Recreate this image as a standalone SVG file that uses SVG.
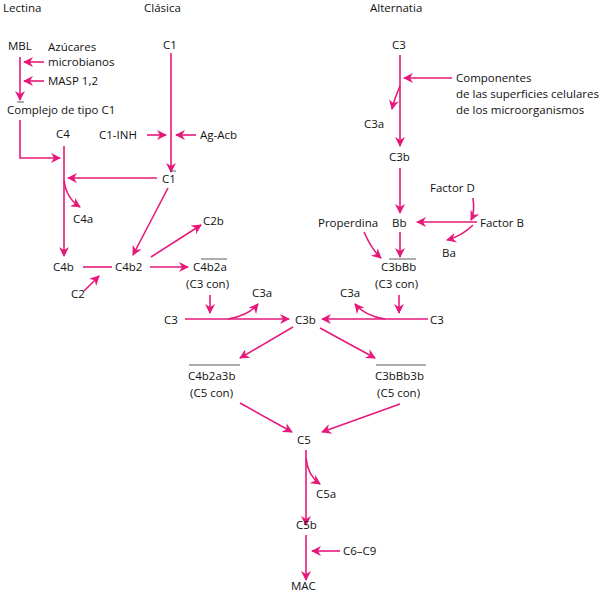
<svg xmlns="http://www.w3.org/2000/svg" width="600" height="593" viewBox="0 0 600 593">
<defs><marker id="a" viewBox="0 0 10 10" refX="9" refY="5" markerWidth="10" markerHeight="10" markerUnits="userSpaceOnUse" orient="auto"><path d="M0,0 L10,5 L0,10 L3,5 z" fill="#e6197a"/></marker></defs>
<style>text{font-family:"Open Sans","Liberation Sans",sans-serif;font-size:11.5px;fill:#111}.c path,.c line,.c polyline{stroke:#e6197a;stroke-width:1.6;fill:none}.m{marker-end:url(#a)}.o{stroke:#333;stroke-width:0.8}</style>
<rect width="600" height="593" fill="#fff"/>
<g id="headers"><text x="3" y="12">Lectina</text><text x="144" y="12">Clásica</text><text x="370" y="12">Alternatia</text></g>
<g class="c" id="connectors">
<line class="m" x1="20" y1="57" x2="20" y2="100"/>
<line class="m" x1="44" y1="62" x2="24" y2="62"/>
<line class="m" x1="44" y1="81" x2="24" y2="81"/>
<polyline class="m" points="20,120 20,158 60,158"/>
<line class="m" x1="64" y1="146" x2="64" y2="256"/>
<path class="m" d="M64,180 Q66,198 80,207"/>
<line class="m" x1="171" y1="53" x2="171" y2="172"/>
<line class="m" x1="147" y1="135" x2="166" y2="135"/>
<line class="m" x1="196" y1="135" x2="176" y2="135"/>
<line class="m" x1="157" y1="178" x2="68" y2="178"/>
<line class="m" x1="168" y1="188" x2="133" y2="255"/>
<line x1="83" y1="267" x2="112" y2="267"/>
<line class="m" x1="84" y1="291" x2="99" y2="276"/>
<line class="m" x1="151" y1="257" x2="201" y2="225"/>
<line class="m" x1="150" y1="267" x2="188" y2="267"/>
<line class="m" x1="210" y1="295" x2="210" y2="313"/>
<line class="m" x1="185" y1="319" x2="289" y2="319"/>
<path class="m" d="M228,319 Q248,316 258,304"/>
<line class="m" x1="428" y1="319" x2="322" y2="319"/>
<path class="m" d="M385,319 Q365,316 355,304"/>
<line class="m" x1="399" y1="295" x2="399" y2="313"/>
<line class="m" x1="293" y1="327" x2="240" y2="358"/>
<line class="m" x1="320" y1="328" x2="375" y2="358"/>
<line class="m" x1="240" y1="403" x2="292" y2="432"/>
<line class="m" x1="400" y1="404" x2="322" y2="432"/>
<line class="m" x1="306" y1="450" x2="306" y2="525"/>
<path class="m" d="M306,458 Q308,476 320,484"/>
<line class="m" x1="306" y1="535" x2="306" y2="580"/>
<line class="m" x1="340" y1="551" x2="312" y2="551"/>
<line class="m" x1="400" y1="55" x2="400" y2="146"/>
<path class="m" d="M400,86 Q394,100 392,109"/>
<line class="m" x1="452" y1="78" x2="404" y2="78"/>
<line class="m" x1="400" y1="168" x2="400" y2="213"/>
<path class="m" d="M473,198 Q475,212 471,220"/>
<line class="m" x1="477" y1="222" x2="417" y2="222"/>
<path class="m" d="M473,225 Q462,236 447,240"/>
<path class="m" d="M364,232 Q372,250 381,258"/>
<line class="m" x1="400" y1="232" x2="400" y2="257"/>
</g>
<g id="n-mbl"><text x="8" y="50">MBL</text></g>
<g id="n-azucares"><text x="48" y="51">Azúcares</text><text x="48" y="66">microbianos</text></g>
<g id="n-masp"><text x="48" y="85">MASP 1,2</text></g>
<g id="n-complejo"><text x="7" y="114">Complejo de tipo C1</text><line class="o" x1="17" y1="102" x2="24" y2="102"/></g>
<g id="n-c4"><text x="56" y="138">C4</text></g>
<g id="n-c1inh"><text x="99" y="139">C1-INH</text></g>
<g id="n-agacb"><text x="200" y="139">Ag-Acb</text></g>
<g id="n-c1"><text x="163" y="49">C1</text></g>
<g id="n-c1bar"><text x="162" y="183">C1</text><line class="o" x1="170" y1="171" x2="176" y2="171"/></g>
<g id="n-c4a"><text x="73" y="223">C4a</text></g>
<g id="n-c4b"><text x="53" y="271">C4b</text></g>
<g id="n-c4b2"><text x="115" y="271">C4b2</text></g>
<g id="n-c2"><text x="71" y="298">C2</text></g>
<g id="n-c2b"><text x="203" y="225">C2b</text></g>
<g id="n-c4b2a"><text x="193" y="271">C4b2a</text><line class="o" x1="201" y1="259" x2="227" y2="259"/><text x="186" y="288">(C3 con)</text></g>
<g id="n-c3l"><text x="164" y="324">C3</text></g>
<g id="n-c3al"><text x="252" y="297">C3a</text></g>
<g id="n-c3b"><text x="295" y="324">C3b</text></g>
<g id="n-c3r"><text x="430" y="324">C3</text></g>
<g id="n-c3ar"><text x="340" y="297">C3a</text></g>
<g id="n-c4b2a3b"><text x="188" y="380">C4b2a3b</text><line class="o" x1="189" y1="365" x2="240" y2="365"/><text x="190" y="397">(C5 con)</text></g>
<g id="n-c3bbb3b"><text x="375" y="380">C3bBb3b</text><line class="o" x1="376" y1="365" x2="426" y2="365"/><text x="377" y="397">(C5 con)</text></g>
<g id="n-c5"><text x="297" y="444">C5</text></g>
<g id="n-c5a"><text x="316" y="498">C5a</text></g>
<g id="n-c5b"><text x="296" y="529">C5b</text></g>
<g id="n-c6c9"><text x="343" y="555">C6–C9</text></g>
<g id="n-mac"><text x="291" y="590">MAC</text></g>
<g id="n-c3alt"><text x="392" y="49">C3</text></g>
<g id="n-comp"><text x="456" y="82">Componentes</text><text x="456" y="98">de las superficies celulares</text><text x="456" y="114">de los microorganismos</text></g>
<g id="n-c3aalt"><text x="364" y="128">C3a</text></g>
<g id="n-c3balt"><text x="389" y="161">C3b</text></g>
<g id="n-factord"><text x="430" y="192">Factor D</text></g>
<g id="n-factorb"><text x="480" y="227">Factor B</text></g>
<g id="n-bb"><text x="392" y="227">Bb</text></g>
<g id="n-ba"><text x="442" y="257">Ba</text></g>
<g id="n-properdina"><text x="318" y="227">Properdina</text></g>
<g id="n-c3bbb"><text x="381" y="271">C3bBb</text><line class="o" x1="389" y1="259" x2="416" y2="259"/><text x="375" y="288">(C3 con)</text></g>
</svg>
